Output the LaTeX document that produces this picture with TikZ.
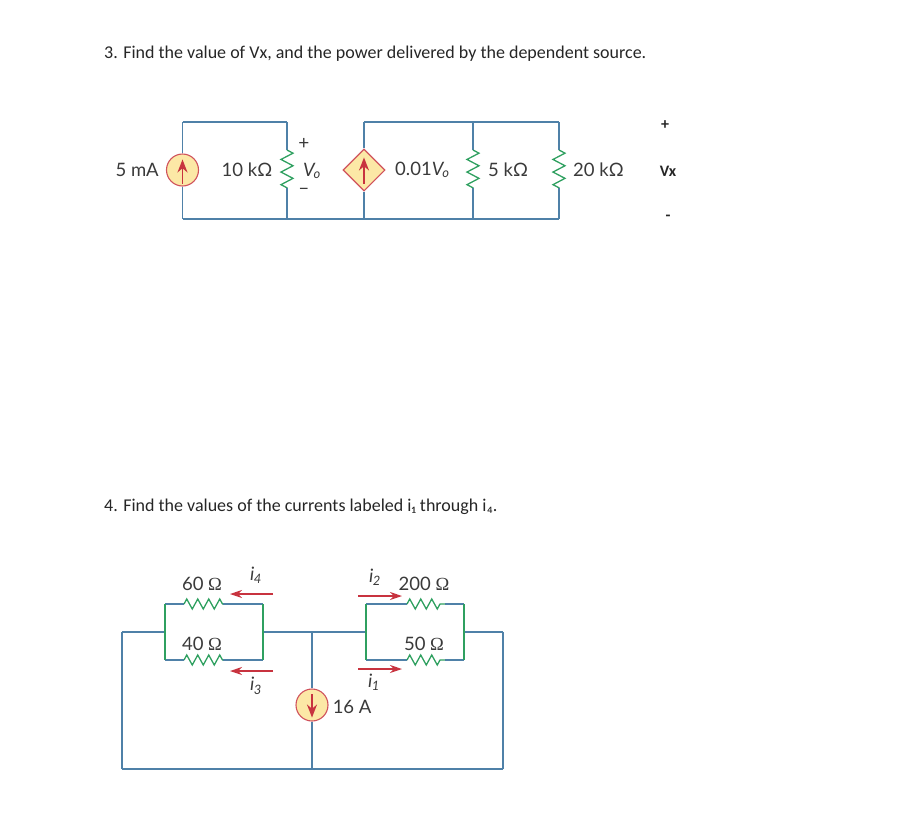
\documentclass[tikz,border=0pt]{standalone}
\usepackage{fontspec}
\setmainfont{Carlito}
\newfontfamily\cirfont{Lato}
\newfontfamily\omfont{Liberation Serif}
\usetikzlibrary{positioning, shapes.geometric, decorations.pathmorphing, arrows.meta}
\definecolor{wirec}{HTML}{4F81A8}
\definecolor{resc}{HTML}{2FA060}
\definecolor{arrc}{HTML}{C8333F}
\definecolor{srcc}{HTML}{FCE8A6}
\definecolor{txtc}{HTML}{3A3A3A}
\newcommand{\vo}{{\itshape V\kern-1pt\textsubscript{o}}}
\newcommand{\ilab}[1]{{\itshape i\kern-0.5pt\textsubscript{#1}}}

\begin{document}
\begin{tikzpicture}[x=1pt, y=-1pt,
		wire/.style={draw=wirec, line width=1.3pt},
		boxside/.style={draw=resc, line width=1.3pt},
		res/.style={draw=resc, line width=1.3pt, decorate, decoration={zigzag, segment length=11pt, amplitude=5pt}},
		resv/.style={res, decoration={zigzag, segment length=12.6pt, amplitude=6pt}},
		src/.style={circle, draw=arrc!85, line width=1.1pt, fill=srcc, minimum size=32pt, inner sep=0pt},
		dsrc/.style={diamond, draw=arrc!85, line width=1.1pt, fill=srcc, minimum size=42pt, inner sep=0pt},
		cur/.style={draw=arrc, line width=1.6pt, -{Stealth[length=12pt, width=8pt]}},
		incur/.style={draw=arrc, line width=1.8pt, -{Stealth[length=13pt, width=10pt]}},
		lbl/.style={font=\cirfont\fontsize{18.5}{20}\selectfont, text=txtc, inner sep=0pt},
		sym/.style={font=\cirfont\fontsize{19}{20}\selectfont, text=txtc, inner sep=0pt},
		body/.style={font=\fontsize{18}{20}\selectfont, text=black!85, anchor=base west, inner sep=0pt},
		bold/.style={font=\bfseries\fontsize{16}{18}\selectfont, text=black!85, inner sep=0pt}]
		\useasboundingbox (0,0) rectangle (898,815);

		\node[body] (q3) at (104,58) {3. Find the value of Vx, and the power delivered by the dependent source.};
		\node[body] (q4) at (104,511) {4. Find the values of the currents labeled i₁ through i₄.};

		% first circuit
		\coordinate (a1) at (182.5,122);
		\coordinate (b1) at (182.5,219);
		\coordinate (a2) at (287,122);
		\coordinate (b2) at (287,219);
		\coordinate (a3) at (364,122);
		\coordinate (b3) at (364,219);
		\coordinate (a4) at (473,122);
		\coordinate (b4) at (473,219);
		\coordinate (a5) at (559,122);
		\coordinate (b5) at (559,219);
		\coordinate (r1t) at (287,150);
		\coordinate (r1b) at (287,188);
		\coordinate (r2t) at (473,150);
		\coordinate (r2b) at (473,188);
		\coordinate (r3t) at (559,150);
		\coordinate (r3b) at (559,188);
		\node[src] (s1) at (182.5,170) {};
		\node[dsrc] (s2) at (364,170) {};

		\path[wire] (s1) edge (a1);
		\path[wire] (a1) edge (a2);
		\path[wire] (a2) edge (r1t);
		\path[wire] (r1b) edge (b2);
		\path[wire] (s1) edge (b1);
		\path[wire] (b1) edge (b5);
		\path[wire] (s2) edge (a3);
		\path[wire] (s2) edge (b3);
		\path[wire] (a3) edge (a5);
		\path[wire] (a4) edge (r2t);
		\path[wire] (r2b) edge (b4);
		\path[wire] (a5) edge (r3t);
		\path[wire] (r3b) edge (b5);
		\draw[resv] (r1t) -- (r1b);
		\draw[resv] (r2t) -- (r2b);
		\draw[resv] (r3t) -- (r3b);
		\draw[incur, shorten <=3pt, shorten >=6pt] (s1.south) -- (s1.north);
		\draw[incur, shorten <=8pt, shorten >=9pt] (s2.south) -- (s2.north);

		\node[lbl, left=7pt of s1] (l1) {5 mA};
		\node[lbl] (l2) at (247,170) {10 kΩ};
		\node[sym] (vp) at (304,144) {+};
		\node[lbl] (vo) at (312,171) {\vo};
		\node[sym] (vm) at (304,191) {–};
		\node[lbl, anchor=west] (l3) at (395,170) {0.01\vo};
		\node[lbl, anchor=west] (l4) at (488,170) {5 kΩ};
		\node[lbl, anchor=west] (l5) at (573,170) {20 kΩ};
		\node[bold] (xp) at (665,125) {+};
		\node[bold] (vx) at (668,171) {Vx};
		\node[bold] (xm) at (668,218) {-};

		% second circuit
		\coordinate (c1) at (122,632);
		\coordinate (d1) at (122,769);
		\coordinate (c2) at (312,632);
		\coordinate (d2) at (312,769);
		\coordinate (c3) at (503,632);
		\coordinate (d3) at (503,769);
		\coordinate (e1) at (165,632);
		\coordinate (e2) at (263,632);
		\coordinate (e3) at (366,632);
		\coordinate (e4) at (464,632);
		\coordinate (f1) at (165,604);
		\coordinate (f2) at (263,604);
		\coordinate (f3) at (366,604);
		\coordinate (f4) at (464,604);
		\coordinate (g1) at (165,660);
		\coordinate (g2) at (263,660);
		\coordinate (g3) at (366,660);
		\coordinate (g4) at (464,660);
		\coordinate (r4l) at (184,604);
		\coordinate (r4r) at (223,604);
		\coordinate (r5l) at (184,660);
		\coordinate (r5r) at (223,660);
		\coordinate (r6l) at (407,604);
		\coordinate (r6r) at (445,604);
		\coordinate (r7l) at (407,660);
		\coordinate (r7r) at (445,660);
		\node[src] (s3) at (312,705) {};

		\path[wire] (d1) edge (c1);
		\path[wire] (c1) edge (e1);
		\path[wire] (e2) edge (e3);
		\path[wire] (e4) edge (c3);
		\path[wire] (c3) edge (d3);
		\path[wire] (d3) edge (d1);
		\path[wire] (c2) edge (s3);
		\path[wire] (s3) edge (d2);
		\path[wire] (f1) edge (r4l);
		\path[wire] (r4r) edge (f2);
		\path[wire] (g1) edge (r5l);
		\path[wire] (r5r) edge (g2);
		\path[wire] (f3) edge (r6l);
		\path[wire] (r6r) edge (f4);
		\path[wire] (g3) edge (r7l);
		\path[wire] (r7r) edge (g4);
		\path[boxside] (f1) edge (g1);
		\path[boxside] (f2) edge (g2);
		\path[boxside] (f3) edge (g3);
		\path[boxside] (f4) edge (g4);
		\draw[res] (r4l) -- (r4r);
		\draw[res] (r5l) -- (r5r);
		\draw[res] (r6l) -- (r6r);
		\draw[res] (r7l) -- (r7r);
		\draw[incur, shorten <=6pt, shorten >=4pt] (s3.north) -- (s3.south);

		\coordinate (i4a) at (273,594);
		\coordinate (i4b) at (230,594);
		\coordinate (i3a) at (273,671);
		\coordinate (i3b) at (230,671);
		\coordinate (i2a) at (358,596);
		\coordinate (i2b) at (402,596);
		\coordinate (i1a) at (358,669);
		\coordinate (i1b) at (402,669);
		\draw[cur] (i4a) -- (i4b);
		\draw[cur] (i3a) -- (i3b);
		\draw[cur] (i2a) -- (i2b);
		\draw[cur] (i1a) -- (i1b);

		\node[lbl] (l6) at (202,584) {60 {\omfont Ω}};
		\node[lbl] (l7) at (202,644) {40 {\omfont Ω}};
		\node[lbl] (l8) at (424,584) {200 {\omfont Ω}};
		\node[lbl] (l9) at (424,644) {50 {\omfont Ω}};
		\node[lbl, right=4pt of s3, yshift=-2pt] (l10) {16 A};
		\node[lbl] (i4) at (256,575) {\ilab{4}};
		\node[lbl] (i3) at (256,686) {\ilab{3}};
		\node[lbl] (i2) at (375,577) {\ilab{2}};
		\node[lbl] (i1) at (374,682) {\ilab{1}};
	\end{tikzpicture}
\end{document}
